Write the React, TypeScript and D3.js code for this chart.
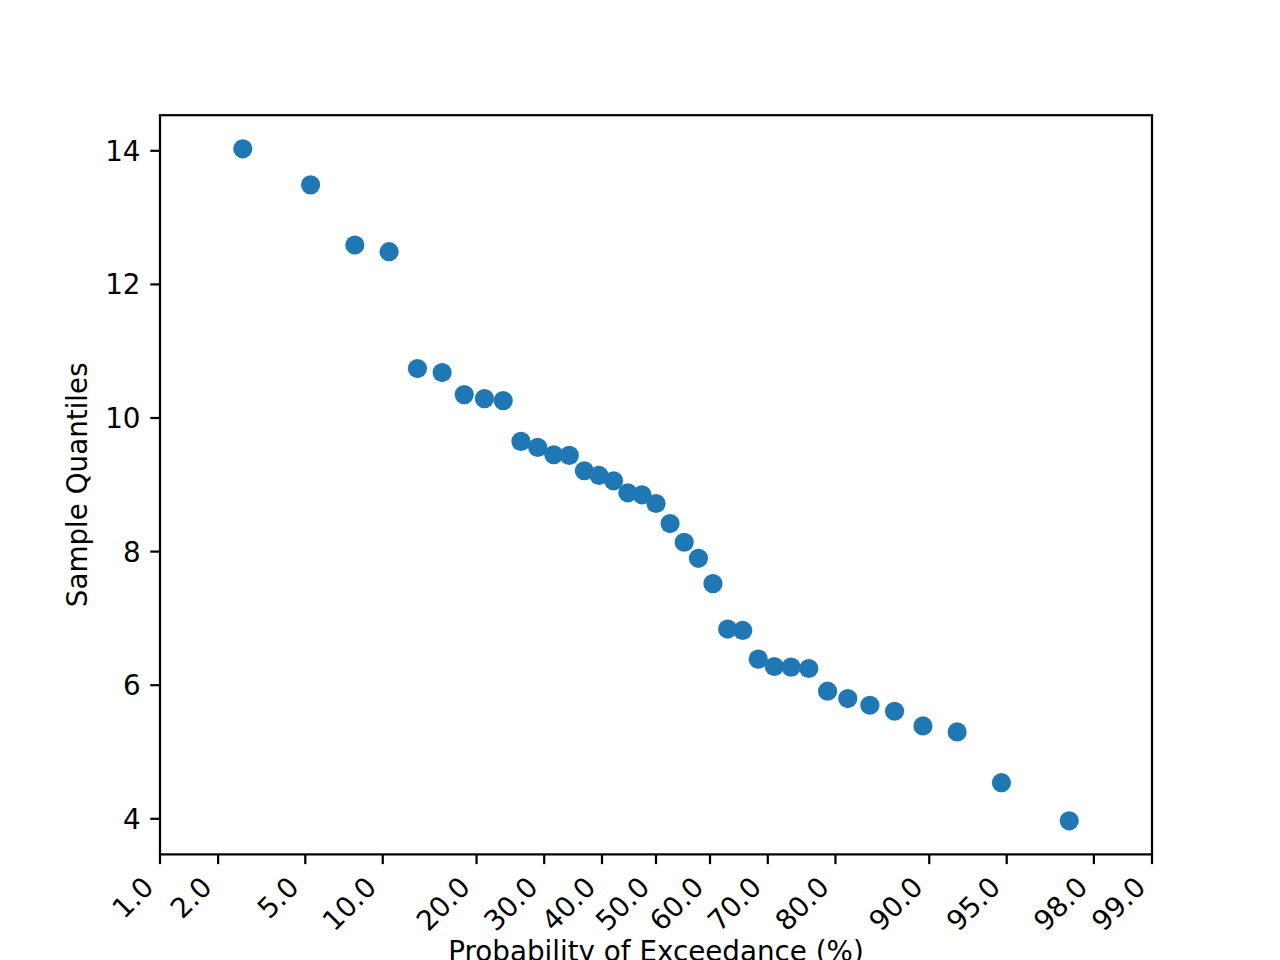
import * as d3 from 'd3';

// exceedance probability (%) of each sorted sample
const exceedance = [
  2.63, 5.26, 7.89, 10.53, 13.16, 15.79, 18.42, 21.05, 23.68, 26.32, 28.95, 31.58, 34.21,
  36.84, 39.47, 42.11, 44.74, 47.37, 50.0, 52.63, 55.26, 57.89, 60.53, 63.16, 65.79, 68.42,
  71.05, 73.68, 76.32, 78.95, 81.58, 84.21, 86.84, 89.47, 92.11, 94.74, 97.37,
];

const quantiles = [
  14.03, 13.49, 12.59, 12.49, 10.74, 10.68, 10.35, 10.29, 10.26, 9.65, 9.56, 9.45, 9.44,
  9.21, 9.14, 9.06, 8.88, 8.85, 8.72, 8.42, 8.14, 7.9, 7.52, 6.84, 6.82, 6.39, 6.28, 6.27,
  6.25, 5.91, 5.8, 5.7, 5.61, 5.39, 5.3, 4.54, 3.97,
];

const xTicks = [1, 2, 5, 10, 20, 30, 40, 50, 60, 70, 80, 90, 95, 98, 99];
const yTicks = [4, 6, 8, 10, 12, 14];

// inverse normal cdf (Acklam)
function probit(p: number): number {
  const a = [-39.69683028665376, 220.9460984245205, -275.9285104469687, 138.357751867269, -30.66479806614716, 2.506628277459239];
  const b = [-54.47609879822406, 161.5858368580409, -155.6989798598866, 66.80131188771972, -13.28068155288572];
  const c = [-0.007784894002430293, -0.3223964580411365, -2.400758277161838, -2.549732539343734, 4.374664141464968, 2.938163982698783];
  const d = [0.007784695709041462, 0.3224671290700398, 2.445134137142996, 3.754408661907416];
  const plow = 0.02425;
  if (p < plow) {
    const q = Math.sqrt(-2 * Math.log(p));
    return (((((c[0] * q + c[1]) * q + c[2]) * q + c[3]) * q + c[4]) * q + c[5]) /
      ((((d[0] * q + d[1]) * q + d[2]) * q + d[3]) * q + 1);
  }
  if (p > 1 - plow) return -probit(1 - p);
  const q = p - 0.5;
  const r = q * q;
  return (((((a[0] * r + a[1]) * r + a[2]) * r + a[3]) * r + a[4]) * r + a[5]) * q /
    (((((b[0] * r + b[1]) * r + b[2]) * r + b[3]) * r + b[4]) * r + 1);
}

const width = 1280;
const height = 960;
const margin = { top: 115.2, right: 128, bottom: 105.6, left: 160 };
const fontSize = 27.78;
const tickLen = 9.72;
const tickPad = 9.72;
const lw = 2.22;
const font = "'DejaVu Sans', sans-serif";

export default function App() {
  const x0 = margin.left;
  const x1 = width - margin.right;
  const y0 = margin.top;
  const y1 = height - margin.bottom;

  const x = d3
    .scaleLinear()
    .domain([probit(0.01), probit(0.99)])
    .range([x0, x1]);

  const [lo, hi] = d3.extent(quantiles) as [number, number];
  const pad = (hi - lo) * 0.05;
  const y = d3.scaleLinear().domain([lo - pad, hi + pad]).range([y1, y0]);

  const points = exceedance.map((p, i) => ({ p, q: quantiles[i] }));
  const labelTop = y1 + tickLen + tickPad;
  const h = fontSize;
  const off = h * Math.SQRT1_2;

  return (
    <svg
      width={width}
      height={height}
      style={{ position: 'absolute', left: 0, top: 0, background: '#fff' }}
      fontFamily={font}
    >
      <rect x={0} y={0} width={width} height={height} fill="#fff" />

      {points.map((d, i) => (
        <circle key={i} cx={x(probit(d.p / 100))} cy={y(d.q)} r={9.6} fill="#1f77b4" />
      ))}

      {/* spines */}
      <rect x={x0} y={y0} width={x1 - x0} height={y1 - y0} fill="none" stroke="#000" strokeWidth={lw} />

      {/* x ticks */}
      {xTicks.map(t => {
        const tx = x(probit(t / 100));
        return (
          <g key={t}>
            <line x1={tx} x2={tx} y1={y1} y2={y1 + tickLen} stroke="#000" strokeWidth={lw} />
            <g transform={`translate(${tx - off},${labelTop}) rotate(-45)`}>
              <text x={0} y={h * 0.76} textAnchor="end" fontSize={fontSize} fill="#000">
                {t.toFixed(1)}
              </text>
            </g>
          </g>
        );
      })}

      {/* y ticks */}
      {yTicks.map(t => {
        const ty = y(t);
        return (
          <g key={t}>
            <line x1={x0 - tickLen} x2={x0} y1={ty} y2={ty} stroke="#000" strokeWidth={lw} />
            <text
              x={x0 - tickLen - tickPad}
              y={ty + fontSize * 0.36}
              textAnchor="end"
              fontSize={fontSize}
              fill="#000"
            >
              {t}
            </text>
          </g>
        );
      })}

      <text
        transform={`translate(87,${(y0 + y1) / 2}) rotate(-90)`}
        textAnchor="middle"
        fontSize={fontSize}
        fill="#000"
      >
        Sample Quantiles
      </text>

      <text x={(x0 + x1) / 2} y={961} textAnchor="middle" fontSize={fontSize} fill="#000">
        Probability of Exceedance (%)
      </text>
    </svg>
  );
}
